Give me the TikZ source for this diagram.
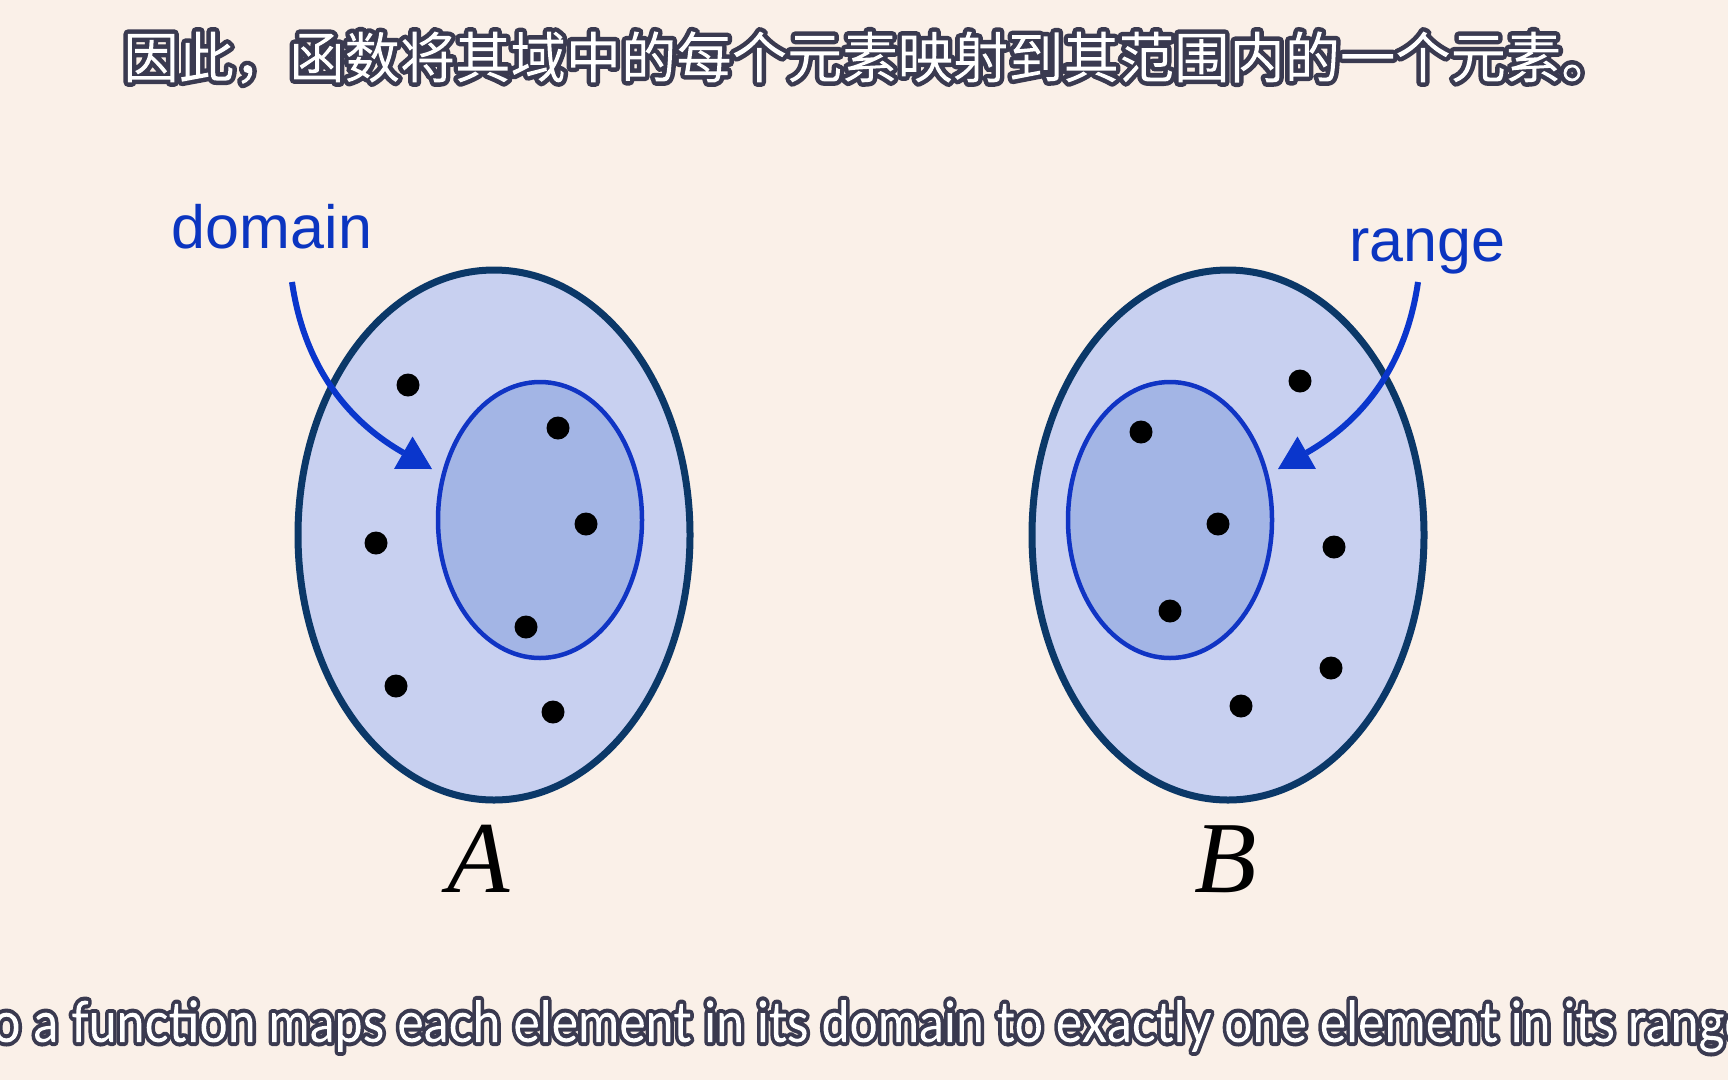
\documentclass[tikz,border=0pt]{standalone}
\usepackage{fontspec}
\usepackage{graphicx}
\setmainfont{Liberation Serif}
\newfontfamily\labfont{Liberation Sans}
\newfontfamily\cjkfont{Noto Sans CJK SC}
\newfontfamily\capfont{Lato}
\usetikzlibrary{shapes.geometric,arrows.meta}
\definecolor{bg}{HTML}{FAF0E8}
\definecolor{outfill}{HTML}{C8D0F0}
\definecolor{infill}{HTML}{A3B5E5}
\definecolor{outline}{HTML}{0B3868}
\definecolor{inline}{HTML}{1034C4}
\definecolor{lblue}{HTML}{0B35C0}
\definecolor{ablue}{HTML}{0A36CC}
% white text with a dark outline: stroke the glyphs and clip to them, then fill white inside
\newcommand\outlinedtext[2]{\special{pdf:content 0 w}\special{pdf:literal direct q 5 Tr #1 w 0.227 0.227 0.314 RG 1 j 1 J}#2\special{pdf:content 1 g -3000 -300 3300 600 re f}\special{pdf:literal direct Q}}
\begin{document}
\begin{tikzpicture}[x=1pt,y=-1pt,
  outerell/.style={ellipse, draw=outline, line width=7pt, fill=outfill, minimum width=392pt, minimum height=530pt, inner sep=0pt},
  innerell/.style={ellipse, draw=inline, line width=4.5pt, fill=infill, minimum width=204pt, minimum height=276pt, inner sep=0pt},
  elem/.style={circle, fill=black, minimum size=23pt, inner sep=0pt},
  lbl/.style={text=lblue, font=\labfont\fontsize{61}{70}\selectfont, inner sep=0pt, anchor=base},
  setlbl/.style={font=\itshape\fontsize{102}{110}\selectfont, inner sep=0pt, anchor=base},
  pointer/.style={draw=ablue, line width=6pt, -{Triangle[length=33pt,width=37pt,line width=1pt]}}]
\path[use as bounding box, fill=bg] (0,0) rectangle (1728,1080);
\clip (0,0) rectangle (1728,1080);

\node[outerell] (A) at (494,535) {};
\node[innerell] (Ain) at (540,520) {};
\node[outerell] (B) at (1228,535) {};
\node[innerell] (Bin) at (1170,520) {};

\node[elem] (a1) at (408,385) {};
\node[elem] (a2) at (558,428) {};
\node[elem] (a3) at (586,524) {};
\node[elem] (a4) at (376,543) {};
\node[elem] (a5) at (526,627) {};
\node[elem] (a6) at (396,686) {};
\node[elem] (a7) at (553,712) {};

\node[elem] (b1) at (1300,381) {};
\node[elem] (b2) at (1141,432) {};
\node[elem] (b3) at (1218,524) {};
\node[elem] (b4) at (1334,547) {};
\node[elem] (b5) at (1170,611) {};
\node[elem] (b6) at (1331,668) {};
\node[elem] (b7) at (1241,706) {};

\coordinate (dstart) at (292,282);
\coordinate (dtip) at (432,469);
\coordinate (rstart) at (1418,282);
\coordinate (rtip) at (1278,469);
\draw[pointer] (dstart) .. controls (305,372) and (353,424) .. (dtip);
\draw[pointer] (rstart) .. controls (1405,372) and (1357,424) .. (rtip);

\node[lbl] (dom) at (272,248) {domain};
\node[lbl] (rng) at (1427,261) {range};
\node[setlbl] (la) at (479,892) {A};
\node[setlbl] (lb) at (1226,892) {B};

\node[anchor=base, inner sep=0pt, font=\cjkfont\fontsize{55.3}{60}\selectfont] (title) at (870,78)
  {\outlinedtext{9}{因此，函数将其域中的每个元素映射到其范围内的一个元素。}};

\node[anchor=base west, inner sep=0pt] (caption) at (-8,1042)
  {\resizebox{1758pt}{42pt}{\capfont\fontsize{56}{60}\selectfont\outlinedtext{8}{o a function maps each element in its domain to exactly one element in its range}}};
\end{tikzpicture}
\end{document}
